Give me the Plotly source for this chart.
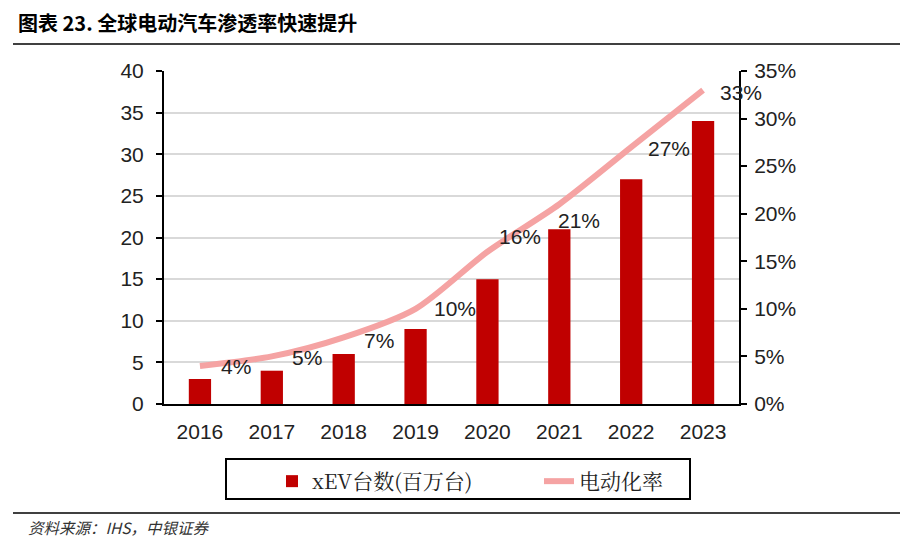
import plotly.graph_objects as go

years = ["2016", "2017", "2018", "2019", "2020", "2021", "2022", "2023"]
xev_units = [3, 4, 6, 9, 15, 21, 27, 34]
penetration = [0.04, 0.05, 0.07, 0.10, 0.16, 0.21, 0.27, 0.33]
pen_labels = ["4%", "5%", "7%", "10%", "16%", "21%", "27%", "33%"]
label_dx = [36, 35, 35, 39, 33, 20, 38, 38]
label_dy = [-1, -1, -3, 0, 15, -16, -1, -2]

tick_font = dict(family="Liberation Sans Narrow, Liberation Sans, sans-serif",
                 size=21, color="#222222")

fig = go.Figure()
fig.add_trace(go.Bar(x=years, y=xev_units, name="xEV台数(百万台)",
                     marker=dict(color="#C00000", line=dict(width=0)), width=0.31))
fig.add_trace(go.Scatter(x=years, y=penetration, name="电动化率", yaxis="y2", mode="lines",
                         line=dict(color="#F5A3A3", width=6, shape="spline", smoothing=0.8)))

for i, (v, t, dx, dy) in enumerate(zip(penetration, pen_labels, label_dx, label_dy)):
    fig.add_annotation(x=i, y=v, yref="y2", text=t, showarrow=False,
                       xshift=dx, yshift=dy, font=tick_font)

fig.update_layout(
    width=914, height=551,
    margin=dict(l=164, r=175, t=71, b=147),
    paper_bgcolor="white", plot_bgcolor="white",
    showlegend=True,
    legend=dict(orientation="h", x=(272 - 164) / 575, xanchor="left", y=-57 / 333, yanchor="top",
                borderwidth=0, entrywidth=222, bgcolor="rgba(0,0,0,0)",
                font=dict(family="Noto Serif CJK SC, Noto Sans CJK SC, serif", size=21, color="#222")),
    xaxis=dict(type="category", range=[-0.5, len(years) - 0.5], showline=True, linecolor="black",
               linewidth=2, ticks="", tickfont=tick_font, showgrid=False, ticklabelstandoff=8),
    yaxis=dict(range=[0, 40], dtick=5, showline=True, linecolor="black", linewidth=2,
               ticks="outside", ticklen=6, tickwidth=2, tickcolor="black",
               showgrid=True, gridcolor="#D9D9D9", gridwidth=1.5, tickfont=tick_font,
               zeroline=False, ticklabelstandoff=8),
    yaxis2=dict(range=[0, 0.35], dtick=0.05, tickformat=".0%", overlaying="y", side="right",
                showline=True, linecolor="black", linewidth=2, ticks="outside", ticklen=6,
                tickwidth=2, tickcolor="black", showgrid=False, tickfont=tick_font,
                zeroline=False, ticklabelstandoff=3),
)

# legend frame
fig.add_shape(type="rect", xref="paper", yref="paper",
              x0=(226 - 164) / 575, x1=(690 - 164) / 575, y0=-95 / 333, y1=-55 / 333,
              line=dict(color="black", width=2))

fig.add_annotation(xref="paper", yref="paper", x=-164/575, y=1+48/333, xanchor="left", yanchor="middle",
                   text="<b>图表 23. 全球电动汽车渗透率快速提升</b>", showarrow=False,
                   xshift=16, font=dict(family="Noto Sans CJK SC", size=20, color="black"))
fig.add_shape(type="line", xref="paper", yref="paper", x0=-151/575, x1=736/575,
              y0=1+27/333, y1=1+27/333, line=dict(color="black", width=1.5))
fig.add_shape(type="line", xref="paper", yref="paper", x0=-151/575, x1=736/575,
              y0=-109/333, y1=-109/333, line=dict(color="black", width=1.5))
fig.add_annotation(xref="paper", yref="paper", x=-138/575, y=-123/333, xanchor="left", yanchor="middle",
                   text="<i>资料来源：IHS，中银证券</i>", showarrow=False,
                   font=dict(family="Noto Sans CJK SC", size=15.5, color="#333"))

fig.write_html("out.html")
